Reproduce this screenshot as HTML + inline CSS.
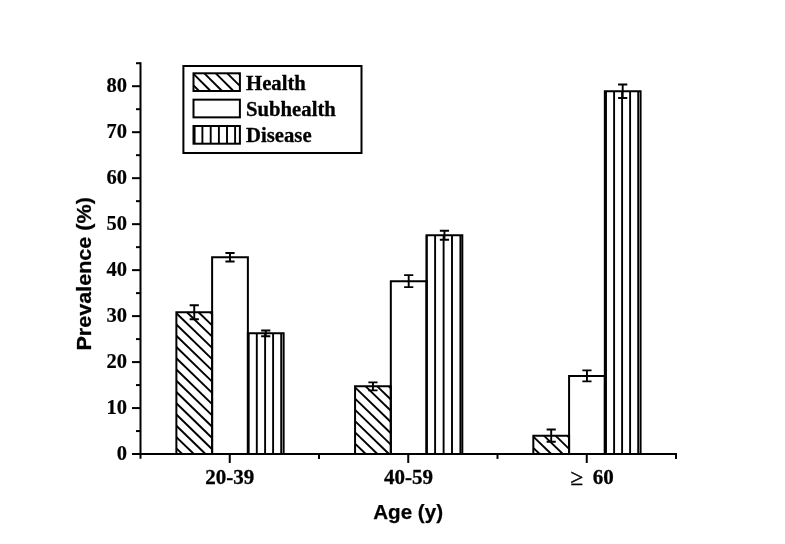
<!DOCTYPE html>
<html lang="en"><head><meta charset="utf-8"><title>Prevalence by age</title>
<style>html,body{margin:0;padding:0;background:#fff}svg{display:block}</style></head>
<body>
<svg width="785" height="544" viewBox="0 0 785 544">
<rect width="785" height="544" fill="#fff"/>
<g stroke="#000" stroke-width="2.00" fill="none" stroke-linecap="butt">
<path d="M210.17 312.20L212.12 314.10" stroke-width="1.9"/>
<path d="M198.56 312.20L212.12 325.36" stroke-width="1.9"/>
<path d="M186.95 312.20L212.12 336.62" stroke-width="1.9"/>
<path d="M176.38 313.20L212.12 347.88" stroke-width="1.9"/>
<path d="M176.38 324.46L212.12 359.14" stroke-width="1.9"/>
<path d="M176.38 335.72L212.12 370.40" stroke-width="1.9"/>
<path d="M176.38 346.98L212.12 381.66" stroke-width="1.9"/>
<path d="M176.38 358.24L212.12 392.92" stroke-width="1.9"/>
<path d="M176.38 369.50L212.12 404.18" stroke-width="1.9"/>
<path d="M176.38 380.76L212.12 415.44" stroke-width="1.9"/>
<path d="M176.38 392.02L212.12 426.70" stroke-width="1.9"/>
<path d="M176.38 403.28L212.12 437.96" stroke-width="1.9"/>
<path d="M176.38 414.54L212.12 449.22" stroke-width="1.9"/>
<path d="M176.38 425.80L205.50 454.05" stroke-width="1.9"/>
<path d="M176.38 437.06L193.89 454.05" stroke-width="1.9"/>
<path d="M176.38 448.32L182.28 454.05" stroke-width="1.9"/>
<path d="M176.38 454.05V312.20H212.12V454.05" stroke-linejoin="miter"/>
<path d="M212.12 454.05V257.26H247.88V454.05" stroke-linejoin="miter"/>
<path d="M248.70 333.35V454.05" stroke-width="1.9"/>
<path d="M256.80 333.35V454.05" stroke-width="1.9"/>
<path d="M265.10 333.35V454.05" stroke-width="1.9"/>
<path d="M273.10 333.35V454.05" stroke-width="1.9"/>
<path d="M281.20 333.35V454.05" stroke-width="1.9"/>
<path d="M247.88 454.05V333.35H283.62V454.05" stroke-linejoin="miter"/>
<path d="M194.25 305.20V319.20M189.65 305.20h9.2M189.65 319.20h9.2" stroke-width="1.9"/>
<path d="M230.00 252.96V261.56M225.40 252.96h9.2M225.40 261.56h9.2" stroke-width="1.9"/>
<path d="M265.75 330.45V336.25M261.15 330.45h9.2M261.15 336.25h9.2" stroke-width="1.9"/>
<path d="M388.87 386.37L390.82 388.26" stroke-width="1.9"/>
<path d="M377.26 386.37L390.82 399.52" stroke-width="1.9"/>
<path d="M365.65 386.37L390.82 410.78" stroke-width="1.9"/>
<path d="M355.07 387.37L390.82 422.04" stroke-width="1.9"/>
<path d="M355.07 398.63L390.82 433.30" stroke-width="1.9"/>
<path d="M355.07 409.89L390.82 444.56" stroke-width="1.9"/>
<path d="M355.07 421.15L389.00 454.05" stroke-width="1.9"/>
<path d="M355.07 432.41L377.39 454.05" stroke-width="1.9"/>
<path d="M355.07 443.67L365.78 454.05" stroke-width="1.9"/>
<path d="M355.07 454.05V386.37H390.82V454.05" stroke-linejoin="miter"/>
<path d="M390.82 454.05V281.17H426.57V454.05" stroke-linejoin="miter"/>
<path d="M426.70 235.19V454.05" stroke-width="1.9"/>
<path d="M435.10 235.19V454.05" stroke-width="1.9"/>
<path d="M443.60 235.19V454.05" stroke-width="1.9"/>
<path d="M452.00 235.19V454.05" stroke-width="1.9"/>
<path d="M460.40 235.19V454.05" stroke-width="1.9"/>
<path d="M426.57 454.05V235.19H462.32V454.05" stroke-linejoin="miter"/>
<path d="M372.95 382.37V390.37M368.35 382.37h9.2M368.35 390.37h9.2" stroke-width="1.9"/>
<path d="M408.70 275.17V287.17M404.10 275.17h9.2M404.10 287.17h9.2" stroke-width="1.9"/>
<path d="M444.45 230.69V239.69M439.85 230.69h9.2M439.85 239.69h9.2" stroke-width="1.9"/>
<path d="M567.12 435.66L569.08 437.56" stroke-width="1.9"/>
<path d="M555.51 435.66L569.08 448.82" stroke-width="1.9"/>
<path d="M543.90 435.66L562.86 454.05" stroke-width="1.9"/>
<path d="M533.33 436.66L551.25 454.05" stroke-width="1.9"/>
<path d="M533.33 447.92L539.65 454.05" stroke-width="1.9"/>
<path d="M533.33 454.05V435.66H569.08V454.05" stroke-linejoin="miter"/>
<path d="M569.08 454.05V375.88H604.83V454.05" stroke-linejoin="miter"/>
<path d="M606.00 91.27V454.05" stroke-width="1.9"/>
<path d="M614.10 91.27V454.05" stroke-width="1.9"/>
<path d="M622.10 91.27V454.05" stroke-width="1.9"/>
<path d="M630.10 91.27V454.05" stroke-width="1.9"/>
<path d="M638.20 91.27V454.05" stroke-width="1.9"/>
<path d="M604.83 454.05V91.27H640.58V454.05" stroke-linejoin="miter"/>
<path d="M551.20 429.56V441.76M546.60 429.56h9.2M546.60 441.76h9.2" stroke-width="1.9"/>
<path d="M586.95 370.38V381.38M582.35 370.38h9.2M582.35 381.38h9.2" stroke-width="1.9"/>
<path d="M622.70 84.57V97.97M618.10 84.57h9.2M618.10 97.97h9.2" stroke-width="1.9"/>
<path d="M140.50 62.22V458.75"/>
<path d="M132.00 454.05H677.00"/>
<path d="M136.00 431.06H140.50"/>
<path d="M132.00 408.07H140.50"/>
<path d="M136.00 385.08H140.50"/>
<path d="M132.00 362.09H140.50"/>
<path d="M136.00 339.10H140.50"/>
<path d="M132.00 316.11H140.50"/>
<path d="M136.00 293.12H140.50"/>
<path d="M132.00 270.13H140.50"/>
<path d="M136.00 247.14H140.50"/>
<path d="M132.00 224.15H140.50"/>
<path d="M136.00 201.16H140.50"/>
<path d="M132.00 178.17H140.50"/>
<path d="M136.00 155.18H140.50"/>
<path d="M132.00 132.19H140.50"/>
<path d="M136.00 109.20H140.50"/>
<path d="M132.00 86.21H140.50"/>
<path d="M136.00 63.22H140.50"/>
<path d="M229.75 454.05V462.95"/>
<path d="M319.00 454.05V458.95"/>
<path d="M408.25 454.05V462.95"/>
<path d="M497.50 454.05V458.95"/>
<path d="M586.75 454.05V462.95"/>
<path d="M676.00 454.05V458.95"/>
<rect x="183.4" y="66" width="178.1" height="87"/>
<path d="M238.70 73.30L239.90 74.50" stroke-width="1.9"/>
<path d="M227.25 73.30L239.90 85.95" stroke-width="1.9"/>
<path d="M215.80 73.30L233.50 91.00" stroke-width="1.9"/>
<path d="M204.35 73.30L222.05 91.00" stroke-width="1.9"/>
<path d="M193.50 73.90L210.60 91.00" stroke-width="1.9"/>
<path d="M193.50 85.35L199.15 91.00" stroke-width="1.9"/>
<path d="M202.40 126.00v17.7" stroke-width="1.9"/>
<path d="M210.70 126.00v17.7" stroke-width="1.9"/>
<path d="M218.90 126.00v17.7" stroke-width="1.9"/>
<path d="M227.00 126.00v17.7" stroke-width="1.9"/>
<path d="M235.10 126.00v17.7" stroke-width="1.9"/>
<path d="M194.60 126.00v17.7" stroke-width="1.9"/>
<rect x="193.5" y="73.30" width="46.4" height="17.7"/>
<rect x="193.5" y="99.65" width="46.4" height="17.7"/>
<rect x="193.5" y="126.00" width="46.4" height="17.7"/>
</g>
<g fill="#000" font-family="'Liberation Serif', serif" font-weight="bold" font-size="21px" stroke="#000" stroke-width="0.3">
<text x="127.0" y="459.70" text-anchor="end" font-size="20.5px" stroke-width="0.2">0</text>
<text x="127.0" y="413.72" text-anchor="end" font-size="20.5px" stroke-width="0.2">10</text>
<text x="127.0" y="367.74" text-anchor="end" font-size="20.5px" stroke-width="0.2">20</text>
<text x="127.0" y="321.76" text-anchor="end" font-size="20.5px" stroke-width="0.2">30</text>
<text x="127.0" y="275.78" text-anchor="end" font-size="20.5px" stroke-width="0.2">40</text>
<text x="127.0" y="229.80" text-anchor="end" font-size="20.5px" stroke-width="0.2">50</text>
<text x="127.0" y="183.82" text-anchor="end" font-size="20.5px" stroke-width="0.2">60</text>
<text x="127.0" y="137.84" text-anchor="end" font-size="20.5px" stroke-width="0.2">70</text>
<text x="127.0" y="91.86" text-anchor="end" font-size="20.5px" stroke-width="0.2">80</text>
<text x="229.80" y="484" text-anchor="middle">20-39</text>
<text x="408.50" y="484" text-anchor="middle">40-59</text>
<text x="592.8" y="484">60</text>
<text x="570.5" y="484.7" font-weight="normal" font-size="23px" stroke-width="0.45">≥</text>
<text x="246.1" y="89.70" font-size="20.7px">Health</text>
<text x="246.1" y="115.90" font-size="20.7px">Subhealth</text>
<text x="246.1" y="142.10" font-size="20.7px">Disease</text>
</g>
<g fill="#000" font-family="'Liberation Sans', sans-serif" font-weight="bold" font-size="20.6px" stroke="#000" stroke-width="0.25">
<text transform="translate(408.1 519.4)" text-anchor="middle">Age (y)</text>
<text transform="translate(90.7 273.85) rotate(-90) scale(1.047 1)" text-anchor="middle">Prevalence (%)</text>
</g>
</svg>
</body></html>
